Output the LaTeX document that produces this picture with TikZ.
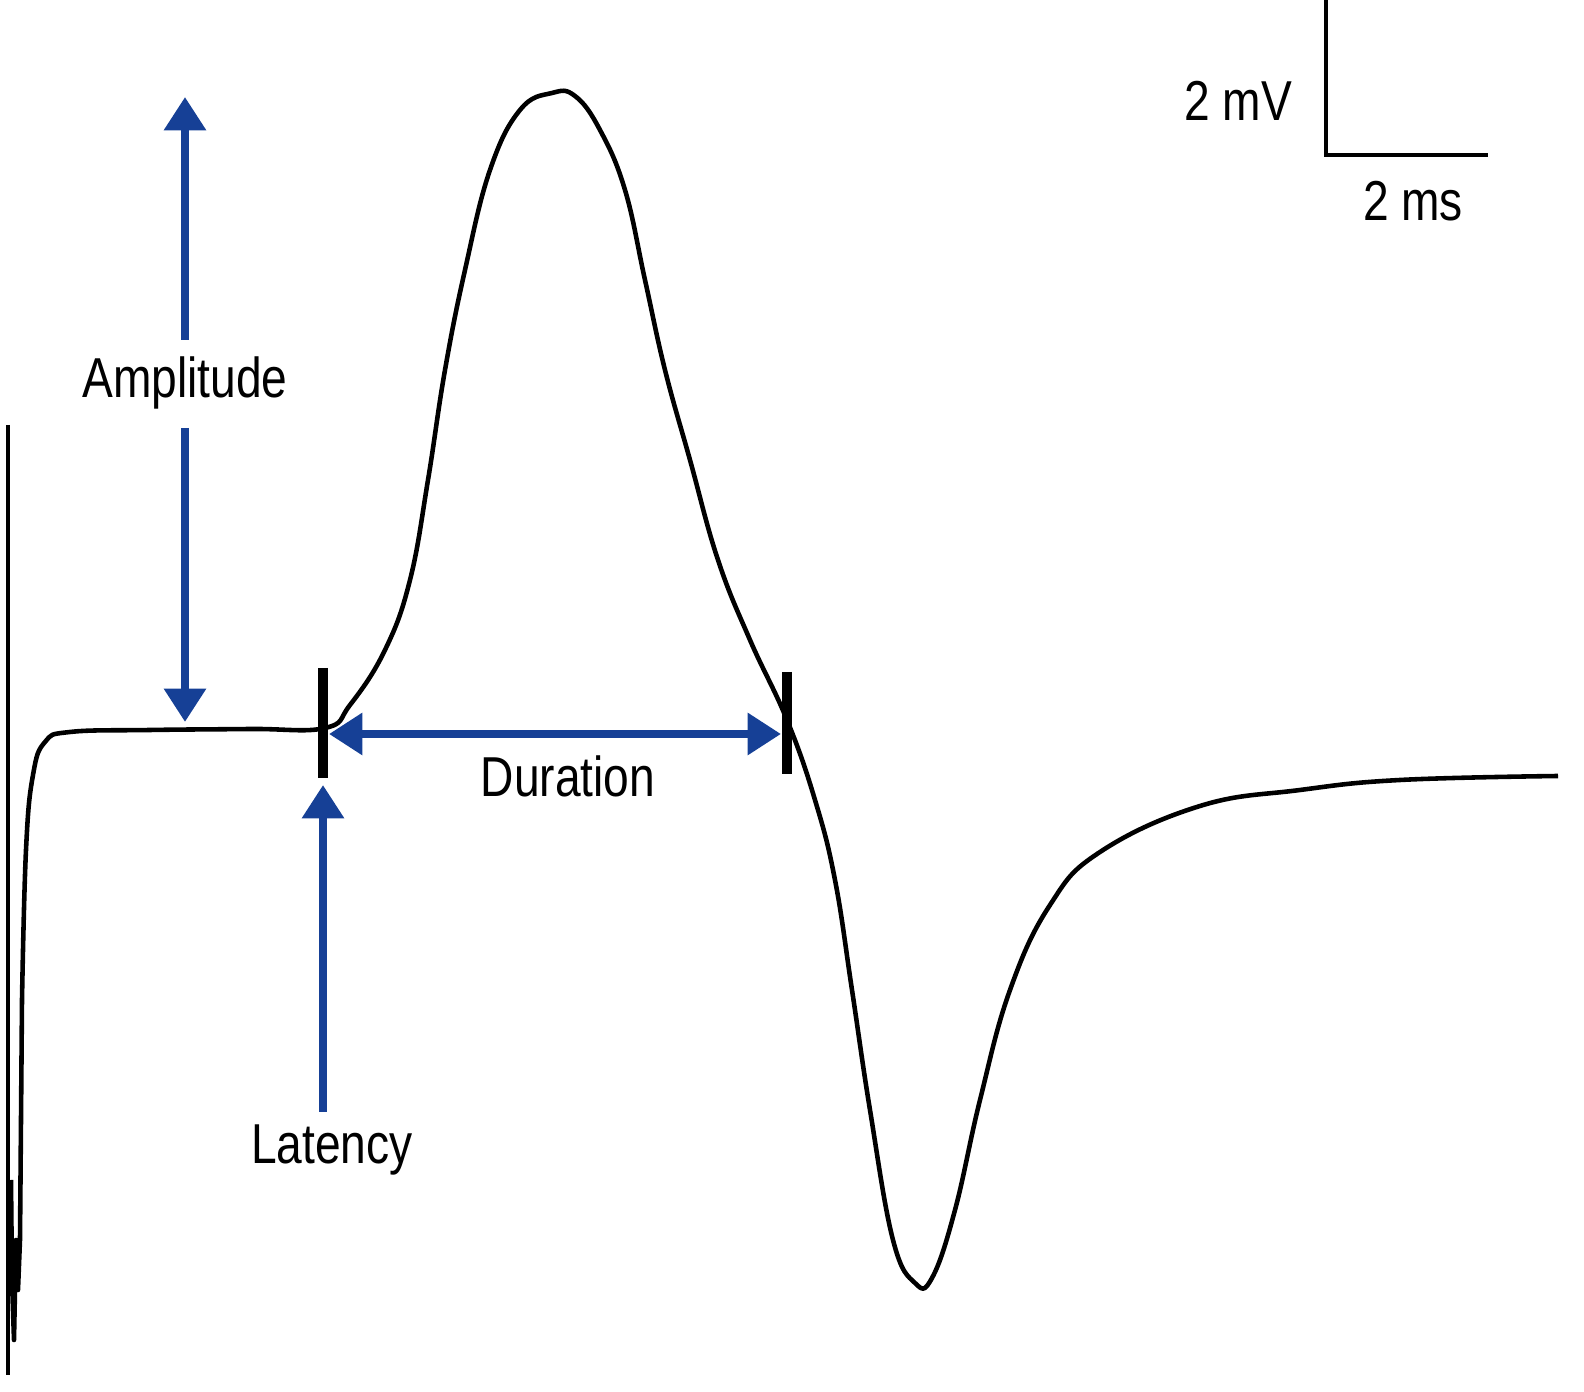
\documentclass[tikz,border=0pt]{standalone}
\usepackage{fontspec}
\setmainfont{Liberation Sans}
\usetikzlibrary{arrows.meta}
\definecolor{ablue}{RGB}{22,64,150}
\begin{document}
\begin{tikzpicture}[x=0.01cm,y=-0.01cm,
  lbl/.style={font=\fontsize{16}{19}\selectfont,xscale=0.82,inner sep=0pt},
  barrow/.style={ablue,line width=2.3pt,-{Triangle[width=11.5pt,length=9.5pt]}},
  trace/.style={black,line width=1.3pt,line join=round},
  tick/.style={black,line width=2.6pt}]
\useasboundingbox (0,0) rectangle (1584,1392);
% left axis line
\draw[black,line width=0.9pt] (8,425) -- (8,1375);
% trace
\draw[trace] (11,1180) -- (12,1280) -- (14,1340) -- (16,1240) -- (18,1290) -- (20,1240) -- (22,1000)
 plot[smooth,tension=0.7] coordinates {(22,1000) (26,850) (33,775) (45,742) (70,732) (150,730) (250,729) (325,728)
 (350,705) (385,650) (410,580) (428,480) (445,370) (465,270) (490,170) (520,110) (552,93) (575,96) (600,130)
 (625,190) (645,280) (665,370) (690,460) (718,560) (750,640) (787,720) (815,800) (835,880) (852,990) (870,1110)
 (893,1240) (915,1283) (932,1278) (955,1210) (980,1100) (1010,990) (1050,905) (1100,852) (1200,806) (1300,790) (1400,780) (1558,776)};
% ticks
\coordinate (t1a) at (323,668); \coordinate (t1b) at (323,778);
\coordinate (t2a) at (787,672); \coordinate (t2b) at (787,774);
\draw[tick] (t1a) -- (t1b);
\draw[tick] (t2a) -- (t2b);
% amplitude
\node[lbl] (amp) at (185,383) {Amplitude};
\coordinate (amptop) at (185,97);
\coordinate (ampbot) at (185,722);
\draw[barrow] (185,340) -- (amptop);
\draw[barrow] (185,428) -- (ampbot);
% duration
\coordinate (d1) at (329,734); \coordinate (d2) at (781,734);
\draw[barrow,{Triangle[width=11.5pt,length=9.5pt]}-{Triangle[width=11.5pt,length=9.5pt]}] (d1) -- (d2);
\node[lbl] (dur) at (568,776) {Duration};
% latency
\node[lbl] (lat) at (332,1150) {Latency};
\coordinate (latend) at (323,785);
\draw[barrow] (323,1112) -- (latend);
% scale bar
\coordinate (s0) at (1326,0); \coordinate (s1) at (1326,155); \coordinate (s2) at (1488,155);
\draw[black,line width=1.3pt] (s0) -- (s1) -- (s2);
\node[lbl] (mv) at (1238,101) {2 mV};
\node[lbl] (ms) at (1413,201) {2 ms};
\end{tikzpicture}
\end{document}
